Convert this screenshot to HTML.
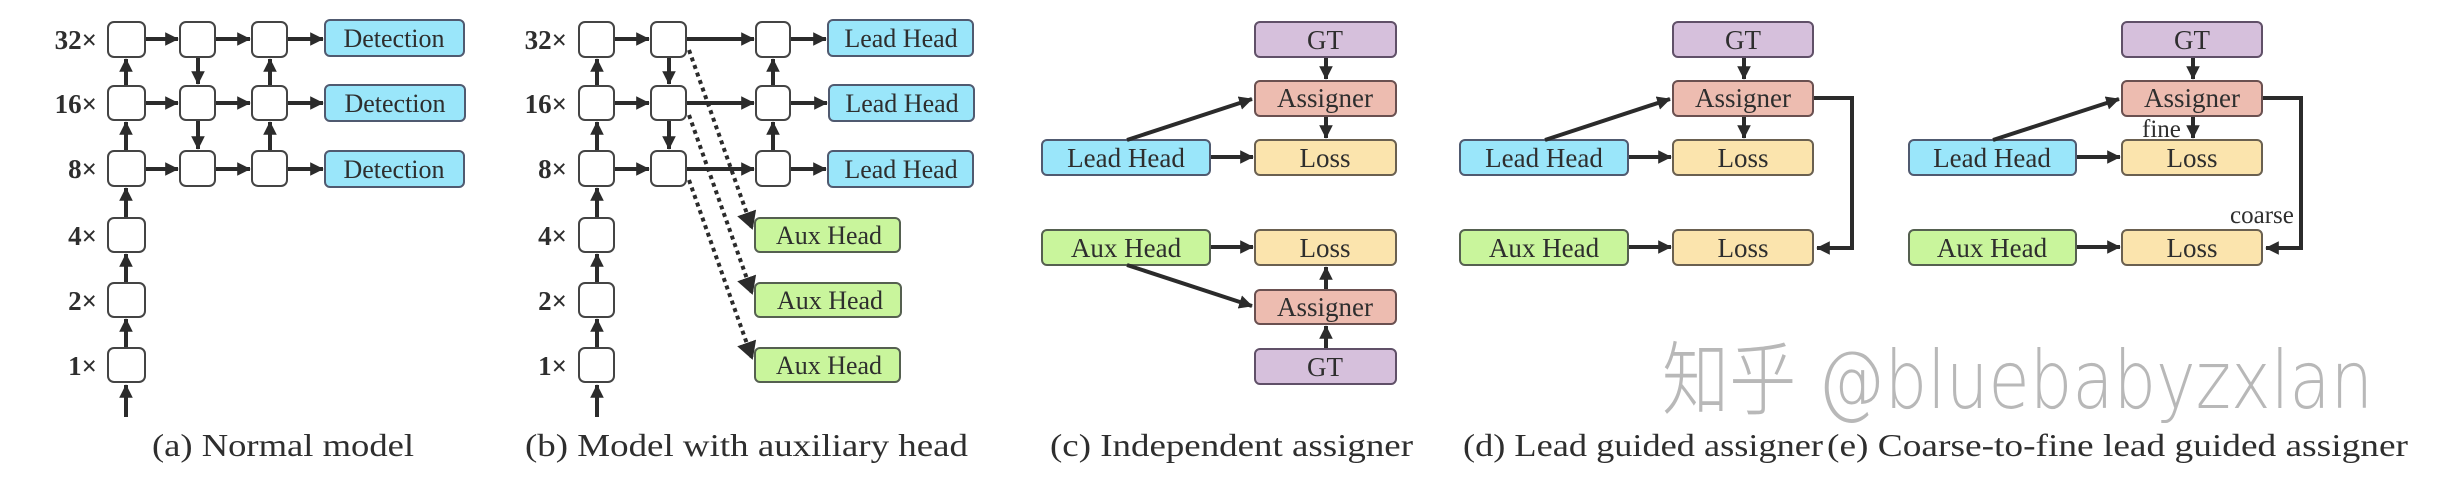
<!DOCTYPE html>
<html><head><meta charset="utf-8"><style>html,body{margin:0;padding:0;background:#fff}svg{display:block}</style></head>
<body>
<svg width="2438" height="492" viewBox="0 0 2438 492" xmlns="http://www.w3.org/2000/svg" font-family="'Liberation Serif', 'Times New Roman', serif">
<defs>
<marker id="ah" markerWidth="4" markerHeight="4" refX="3.2" refY="2" orient="auto" markerUnits="strokeWidth"><path d="M0,0.3 L3.4,2 L0,3.7 z" fill="#2b2b2b"/></marker>
<marker id="ahs" markerWidth="5" markerHeight="5" refX="4" refY="2.5" orient="auto" markerUnits="strokeWidth"><path d="M0,0 L4.5,2.5 L0,5 z" fill="#2b2b2b"/></marker>
</defs>
<style>
.sb{fill:#fff;stroke:#444;stroke-width:2}
.a{stroke:#2b2b2b;stroke-width:4;fill:none;marker-end:url(#ah)}
.d{stroke:#2b2b2b;stroke-width:4;fill:none;stroke-dasharray:4 4;marker-end:url(#ahs)}
.bl{fill:#9ae6fa;stroke:#505a70;stroke-width:2}
.gr{fill:#c9f59c;stroke:#556050;stroke-width:2}
.pu{fill:#d6c0dc;stroke:#605068;stroke-width:2}
.as{fill:#edbcb0;stroke:#6a5050;stroke-width:2}
.lo{fill:#fbe4ad;stroke:#6a6050;stroke-width:2}
text{font-family:"Liberation Serif","Times New Roman",serif;fill:#2e2e2e}
.t{font-size:26px;text-anchor:middle}
.tb{font-size:27px;text-anchor:middle}
.sc{font-size:27px;font-weight:bold;text-anchor:end}
.cap{font-size:32px}
</style>

<!-- Panel (a) -->
<g>
<text class="sc" x="97" y="49">32×</text>
<text class="sc" x="97" y="113">16×</text>
<text class="sc" x="97" y="178">8×</text>
<text class="sc" x="97" y="245">4×</text>
<text class="sc" x="97" y="310">2×</text>
<text class="sc" x="97" y="375">1×</text>
<rect class="sb" x="108" y="22" width="37" height="35" rx="6"/>
<rect class="sb" x="108" y="86" width="37" height="34" rx="6"/>
<rect class="sb" x="108" y="151" width="37" height="35" rx="6"/>
<rect class="sb" x="108" y="218" width="37" height="34" rx="6"/>
<rect class="sb" x="108" y="283" width="37" height="34" rx="6"/>
<rect class="sb" x="108" y="348" width="37" height="34" rx="6"/>
<rect class="sb" x="180" y="22" width="35" height="35" rx="6"/>
<rect class="sb" x="180" y="86" width="35" height="34" rx="6"/>
<rect class="sb" x="180" y="151" width="35" height="35" rx="6"/>
<rect class="sb" x="252" y="22" width="35" height="35" rx="6"/>
<rect class="sb" x="252" y="86" width="35" height="34" rx="6"/>
<rect class="sb" x="252" y="151" width="35" height="35" rx="6"/>
<rect class="bl" x="325" y="20" width="139" height="36" rx="5"/>
<rect class="bl" x="325" y="85" width="140" height="36" rx="5"/>
<rect class="bl" x="325" y="151" width="139" height="36" rx="5"/>
<text class="t" x="394" y="47">Detection</text>
<text class="t" x="395" y="112">Detection</text>
<text class="t" x="394" y="178">Detection</text>
<line class="a" x1="146" y1="39" x2="178" y2="39"/><line class="a" x1="216" y1="39" x2="250" y2="39"/><line class="a" x1="288" y1="39" x2="323" y2="39"/>
<line class="a" x1="146" y1="103" x2="178" y2="103"/><line class="a" x1="216" y1="103" x2="250" y2="103"/><line class="a" x1="288" y1="103" x2="323" y2="103"/>
<line class="a" x1="146" y1="169" x2="178" y2="169"/><line class="a" x1="216" y1="169" x2="250" y2="169"/><line class="a" x1="288" y1="169" x2="323" y2="169"/>
<line class="a" x1="126" y1="85" x2="126" y2="59"/><line class="a" x1="126" y1="150" x2="126" y2="122"/><line class="a" x1="126" y1="217" x2="126" y2="188"/>
<line class="a" x1="126" y1="282" x2="126" y2="254"/><line class="a" x1="126" y1="347" x2="126" y2="319"/><line class="a" x1="126" y1="417" x2="126" y2="385"/>
<line class="a" x1="198" y1="58" x2="198" y2="84"/><line class="a" x1="198" y1="121" x2="198" y2="149"/>
<line class="a" x1="270" y1="150" x2="270" y2="122"/><line class="a" x1="270" y1="85" x2="270" y2="59"/>
<text class="cap" x="152" y="456" textLength="262" lengthAdjust="spacingAndGlyphs">(a) Normal model</text>
</g>

<!-- Panel (b) -->
<g>
<text class="sc" x="567" y="49">32×</text>
<text class="sc" x="567" y="113">16×</text>
<text class="sc" x="567" y="178">8×</text>
<text class="sc" x="567" y="245">4×</text>
<text class="sc" x="567" y="310">2×</text>
<text class="sc" x="567" y="375">1×</text>
<rect class="sb" x="579" y="22" width="35" height="35" rx="6"/>
<rect class="sb" x="579" y="86" width="35" height="34" rx="6"/>
<rect class="sb" x="579" y="151" width="35" height="35" rx="6"/>
<rect class="sb" x="579" y="218" width="35" height="34" rx="6"/>
<rect class="sb" x="579" y="283" width="35" height="34" rx="6"/>
<rect class="sb" x="579" y="348" width="35" height="34" rx="6"/>
<rect class="sb" x="651" y="22" width="35" height="35" rx="6"/>
<rect class="sb" x="651" y="86" width="35" height="34" rx="6"/>
<rect class="sb" x="651" y="151" width="35" height="35" rx="6"/>
<rect class="sb" x="756" y="22" width="34" height="35" rx="6"/>
<rect class="sb" x="756" y="86" width="34" height="34" rx="6"/>
<rect class="sb" x="756" y="151" width="34" height="35" rx="6"/>
<rect class="bl" x="828" y="20" width="145" height="36" rx="5"/>
<rect class="bl" x="829" y="85" width="145" height="36" rx="5"/>
<rect class="bl" x="828" y="151" width="145" height="36" rx="5"/>
<text class="t" x="901" y="47">Lead Head</text>
<text class="t" x="902" y="112">Lead Head</text>
<text class="t" x="901" y="178">Lead Head</text>
<rect class="gr" x="755" y="218" width="145" height="34" rx="5"/>
<rect class="gr" x="755" y="283" width="146" height="34" rx="5"/>
<rect class="gr" x="755" y="348" width="145" height="34" rx="5"/>
<text class="t" x="829" y="244">Aux Head</text>
<text class="t" x="830" y="309">Aux Head</text>
<text class="t" x="829" y="374">Aux Head</text>
<line class="d" x1="689" y1="50" x2="752" y2="228"/>
<line class="d" x1="689" y1="115" x2="752" y2="293"/>
<line class="d" x1="689" y1="180" x2="752" y2="358"/>
<line class="a" x1="615" y1="39" x2="649" y2="39"/><line class="a" x1="687" y1="39" x2="754" y2="39"/><line class="a" x1="791" y1="39" x2="826" y2="39"/>
<line class="a" x1="615" y1="103" x2="649" y2="103"/><line class="a" x1="687" y1="103" x2="754" y2="103"/><line class="a" x1="791" y1="103" x2="827" y2="103"/>
<line class="a" x1="615" y1="169" x2="649" y2="169"/><line class="a" x1="687" y1="169" x2="754" y2="169"/><line class="a" x1="791" y1="169" x2="826" y2="169"/>
<line class="a" x1="597" y1="85" x2="597" y2="59"/><line class="a" x1="597" y1="150" x2="597" y2="122"/><line class="a" x1="597" y1="217" x2="597" y2="188"/>
<line class="a" x1="597" y1="282" x2="597" y2="254"/><line class="a" x1="597" y1="347" x2="597" y2="319"/><line class="a" x1="597" y1="417" x2="597" y2="385"/>
<line class="a" x1="669" y1="58" x2="669" y2="84"/><line class="a" x1="669" y1="121" x2="669" y2="149"/>
<line class="a" x1="773" y1="150" x2="773" y2="122"/><line class="a" x1="773" y1="85" x2="773" y2="59"/>
<text class="cap" x="525" y="456" textLength="443" lengthAdjust="spacingAndGlyphs">(b) Model with auxiliary head</text>
</g>

<!-- Panel (c) -->
<g>
<rect class="pu" x="1255" y="22" width="141" height="35" rx="5"/><text class="tb" x="1325" y="49">GT</text>
<rect class="as" x="1255" y="81" width="141" height="35" rx="5"/><text class="tb" x="1325" y="107">Assigner</text>
<rect class="lo" x="1255" y="140" width="141" height="35" rx="5"/><text class="tb" x="1325" y="167">Loss</text>
<rect class="bl" x="1042" y="140" width="168" height="35" rx="5"/><text class="tb" x="1126" y="167">Lead Head</text>
<rect class="gr" x="1042" y="230" width="168" height="35" rx="5"/><text class="tb" x="1126" y="257">Aux Head</text>
<rect class="lo" x="1255" y="230" width="141" height="35" rx="5"/><text class="tb" x="1325" y="257">Loss</text>
<rect class="as" x="1255" y="290" width="141" height="34" rx="5"/><text class="tb" x="1325" y="316">Assigner</text>
<rect class="pu" x="1255" y="349" width="141" height="35" rx="5"/><text class="tb" x="1325" y="376">GT</text>
<line class="a" x1="1326" y1="58" x2="1326" y2="79"/>
<line class="a" x1="1326" y1="117" x2="1326" y2="138"/>
<line class="a" x1="1211" y1="157" x2="1253" y2="157"/>
<line class="a" x1="1127" y1="140" x2="1252" y2="99"/>
<line class="a" x1="1211" y1="247" x2="1253" y2="247"/>
<line class="a" x1="1127" y1="265" x2="1252" y2="306"/>
<line class="a" x1="1326" y1="289" x2="1326" y2="267"/>
<line class="a" x1="1326" y1="348" x2="1326" y2="326"/>
<text class="cap" x="1050" y="456" textLength="363" lengthAdjust="spacingAndGlyphs">(c) Independent assigner</text>
</g>

<!-- Panel (d) -->
<g>
<rect class="pu" x="1673" y="22" width="140" height="35" rx="5"/><text class="tb" x="1743" y="49">GT</text>
<rect class="as" x="1673" y="81" width="140" height="35" rx="5"/><text class="tb" x="1743" y="107">Assigner</text>
<rect class="lo" x="1673" y="140" width="140" height="35" rx="5"/><text class="tb" x="1743" y="167">Loss</text>
<rect class="bl" x="1460" y="140" width="168" height="35" rx="5"/><text class="tb" x="1544" y="167">Lead Head</text>
<rect class="gr" x="1460" y="230" width="168" height="35" rx="5"/><text class="tb" x="1544" y="257">Aux Head</text>
<rect class="lo" x="1673" y="230" width="140" height="35" rx="5"/><text class="tb" x="1743" y="257">Loss</text>
<line class="a" x1="1744" y1="58" x2="1744" y2="79"/>
<line class="a" x1="1744" y1="117" x2="1744" y2="138"/>
<line class="a" x1="1629" y1="157" x2="1671" y2="157"/>
<line class="a" x1="1545" y1="140" x2="1670" y2="99"/>
<line class="a" x1="1629" y1="247" x2="1671" y2="247"/>
<polyline class="a" points="1814,98 1852,98 1852,248 1817,248"/>
<text class="cap" x="1463" y="456" textLength="360" lengthAdjust="spacingAndGlyphs">(d) Lead guided assigner</text>
</g>

<!-- Panel (e) -->
<g>
<rect class="pu" x="2122" y="22" width="140" height="35" rx="5"/><text class="tb" x="2192" y="49">GT</text>
<rect class="as" x="2122" y="81" width="140" height="35" rx="5"/><text class="tb" x="2192" y="107">Assigner</text>
<rect class="lo" x="2122" y="140" width="140" height="35" rx="5"/><text class="tb" x="2192" y="167">Loss</text>
<rect class="bl" x="1909" y="140" width="167" height="35" rx="5"/><text class="tb" x="1992" y="167">Lead Head</text>
<rect class="gr" x="1909" y="230" width="167" height="35" rx="5"/><text class="tb" x="1992" y="257">Aux Head</text>
<rect class="lo" x="2122" y="230" width="140" height="35" rx="5"/><text class="tb" x="2192" y="257">Loss</text>
<line class="a" x1="2193" y1="58" x2="2193" y2="79"/>
<line class="a" x1="2193" y1="117" x2="2193" y2="138"/>
<line class="a" x1="2077" y1="157" x2="2120" y2="157"/>
<line class="a" x1="1993" y1="140" x2="2119" y2="99"/>
<line class="a" x1="2077" y1="247" x2="2120" y2="247"/>
<polyline class="a" points="2263,98 2301,98 2301,248 2266,248"/>
<text x="2142" y="137" style="font-size:25px">fine</text>
<text x="2230" y="223" style="font-size:25px">coarse</text>
<text class="cap" x="1827" y="456" textLength="581" lengthAdjust="spacingAndGlyphs">(e) Coarse-to-fine lead guided assigner</text>
</g>

<!-- watermark -->
<text x="1662" y="408" textLength="711" lengthAdjust="spacingAndGlyphs" style="font-family:'DejaVu Sans','Noto Sans CJK SC',sans-serif;font-size:80px;fill:#b8b8b8;font-weight:300">知乎 @bluebabyzxlan</text>
</svg>
</body></html>
